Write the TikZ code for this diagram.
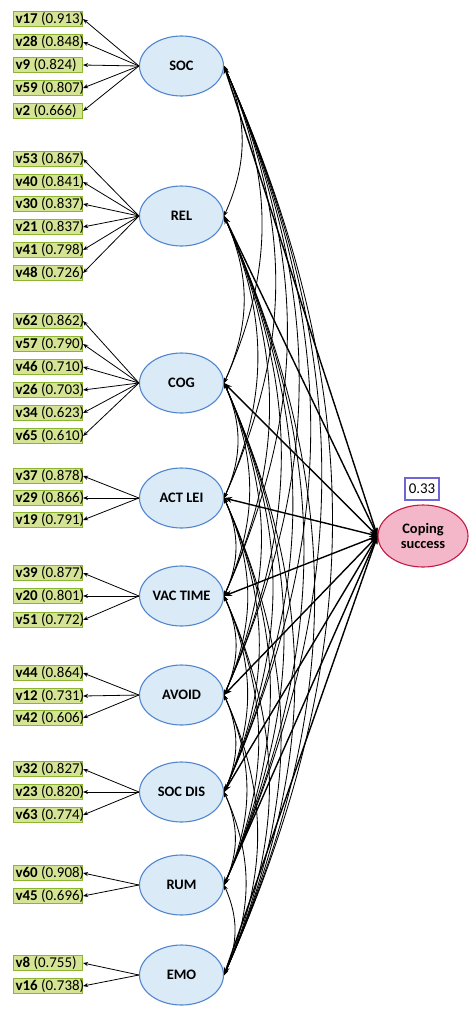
\documentclass[tikz,border=0pt]{standalone}
\usepackage{fontspec}
\setmainfont{Carlito}
\usetikzlibrary{shapes.geometric,arrows.meta}
\definecolor{itemfill}{RGB}{212,228,148}
\definecolor{itemline}{RGB}{140,182,48}
\definecolor{factfill}{RGB}{219,234,247}
\definecolor{factline}{RGB}{80,134,206}
\definecolor{outfill}{RGB}{244,182,201}
\definecolor{outline}{RGB}{196,26,66}
\definecolor{rsqline}{RGB}{112,100,214}
\newcommand{\ind}[2]{\makebox[65bp][l]{\textbf{#1} (#2)}}

\begin{document}
\begin{tikzpicture}[x=1bp,y=-1bp,
      every node/.style={font=\fontsize{15}{16}\selectfont},
      indicator/.style={draw=itemline,fill=itemfill,line width=1.1pt,
        inner xsep=2bp,inner ysep=1bp},
      factor/.style={ellipse,draw=factline,fill=factfill,line width=1.1pt,minimum width=84bp,
        minimum height=60bp,inner sep=0pt,font=\fontsize{14.5}{15}\selectfont\bfseries},
      outcome/.style={ellipse,draw=outline,fill=outfill,line width=1.1pt,minimum width=90bp,
        minimum height=62bp,inner sep=0pt,align=center,font=\fontsize{14.5}{16}\selectfont\bfseries},
      rsq/.style={draw=rsqline,fill=white,line width=1.2pt,minimum width=34bp,minimum height=22bp,inner sep=2bp},
      load/.style={-{Stealth[length=5pt,width=4pt]},line width=0.8pt},
      corr/.style={{Stealth[length=5pt,width=4pt]}-{Stealth[length=5pt,width=4pt]},line width=0.85pt},
      reg/.style={{Stealth[length=8pt,width=6pt]}-{Stealth[length=8pt,width=6pt]},line width=1.4pt}
    ]
  \useasboundingbox (0,0) rectangle (474,1018);

  % latent factors
  \node[factor] (soc) at (181.5,66) {SOC};
  \node[factor] (rel) at (181.5,216) {REL};
  \node[factor] (cog) at (181.5,383) {COG};
  \node[factor] (actlei) at (181.5,498) {ACT LEI};
  \node[factor] (vactime) at (181.5,596) {VAC TIME};
  \node[factor] (avoid) at (181.5,695) {AVOID};
  \node[factor] (socdis) at (181.5,792) {SOC DIS};
  \node[factor] (rum) at (181.5,885) {RUM};
  \node[factor] (emo) at (181.5,975) {EMO};

  % outcome
  \node[outcome] (coping) at (423,536) {Coping\\success};
  \node[rsq] (r2) at (422,489) {0.33};

  % indicators
  \node[indicator] (v17) at (48,19) {\ind{v17}{0.913}};
  \node[indicator] (v28) at (48,42) {\ind{v28}{0.848}};
  \node[indicator] (v9) at (48,65) {\ind{v9}{0.824}};
  \node[indicator] (v59) at (48,88) {\ind{v59}{0.807}};
  \node[indicator] (v2) at (48,111) {\ind{v2}{0.666}};
  \foreach \v in {v17,v28,v9,v59,v2} \draw[load] (soc.west) -- (\v.east);

  \node[indicator] (v53) at (48,159) {\ind{v53}{0.867}};
  \node[indicator] (v40) at (48,182) {\ind{v40}{0.841}};
  \node[indicator] (v30) at (48,204) {\ind{v30}{0.837}};
  \node[indicator] (v21) at (48,227) {\ind{v21}{0.837}};
  \node[indicator] (v41) at (48,250) {\ind{v41}{0.798}};
  \node[indicator] (v48) at (48,273) {\ind{v48}{0.726}};
  \foreach \v in {v53,v40,v30,v21,v41,v48} \draw[load] (rel.west) -- (\v.east);

  \node[indicator] (v62) at (48,321) {\ind{v62}{0.862}};
  \node[indicator] (v57) at (48,344) {\ind{v57}{0.790}};
  \node[indicator] (v46) at (48,367) {\ind{v46}{0.710}};
  \node[indicator] (v26) at (48,390) {\ind{v26}{0.703}};
  \node[indicator] (v34) at (48,413) {\ind{v34}{0.623}};
  \node[indicator] (v65) at (48,436) {\ind{v65}{0.610}};
  \foreach \v in {v62,v57,v46,v26,v34,v65} \draw[load] (cog.west) -- (\v.east);

  \node[indicator] (v37) at (48,476) {\ind{v37}{0.878}};
  \node[indicator] (v29) at (48,498) {\ind{v29}{0.866}};
  \node[indicator] (v19) at (48,520) {\ind{v19}{0.791}};
  \foreach \v in {v37,v29,v19} \draw[load] (actlei.west) -- (\v.east);

  \node[indicator] (v39) at (48,573) {\ind{v39}{0.877}};
  \node[indicator] (v20) at (48,596) {\ind{v20}{0.801}};
  \node[indicator] (v51) at (48,620) {\ind{v51}{0.772}};
  \foreach \v in {v39,v20,v51} \draw[load] (vactime.west) -- (\v.east);

  \node[indicator] (v44) at (48,673) {\ind{v44}{0.864}};
  \node[indicator] (v12) at (48,696) {\ind{v12}{0.731}};
  \node[indicator] (v42) at (48,718) {\ind{v42}{0.606}};
  \foreach \v in {v44,v12,v42} \draw[load] (avoid.west) -- (\v.east);

  \node[indicator] (v32) at (48,769) {\ind{v32}{0.827}};
  \node[indicator] (v23) at (48,792) {\ind{v23}{0.820}};
  \node[indicator] (v63) at (48,815) {\ind{v63}{0.774}};
  \foreach \v in {v32,v23,v63} \draw[load] (socdis.west) -- (\v.east);

  \node[indicator] (v60) at (48,873) {\ind{v60}{0.908}};
  \node[indicator] (v45) at (48,896) {\ind{v45}{0.696}};
  \foreach \v in {v60,v45} \draw[load] (rum.west) -- (\v.east);

  \node[indicator] (v8) at (48,963) {\ind{v8}{0.755}};
  \node[indicator] (v16) at (48,986) {\ind{v16}{0.738}};
  \foreach \v in {v8,v16} \draw[load] (emo.west) -- (\v.east);

  % correlations between factors
  \foreach \a [count=\i] in {soc,rel,cog,actlei,vactime,avoid,socdis,rum,emo}
    \foreach \b [count=\j] in {soc,rel,cog,actlei,vactime,avoid,socdis,rum,emo}
      {\ifnum\j>\i \draw[corr] (\a.east) to[bend left=24] (\b.east); \fi}

  % paths to coping success
  \foreach \a in {soc,rel,cog,actlei,vactime,avoid,socdis,rum,emo}
    \draw[reg] (\a.east) -- (coping.west);
\end{tikzpicture}
\end{document}
